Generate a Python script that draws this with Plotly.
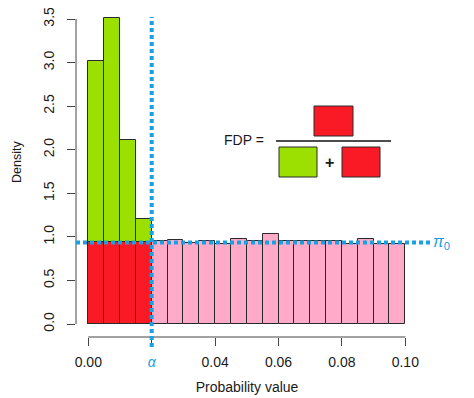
import plotly.graph_objects as go

# ---- data ----
bin_width = 0.005
bin_left = [round(i * 0.005, 3) for i in range(20)]
density = [3.02, 3.51, 2.115, 1.207,
           0.947, 0.969, 0.928, 0.958, 0.920, 0.981, 0.947, 1.029,
           0.947, 0.947, 0.947, 0.947, 0.920, 0.981, 0.913, 0.913]
alpha = 0.02
pi0 = 0.935
null_level = 0.94

x_ticks = [0.00, 0.02, 0.04, 0.06, 0.08, 0.10]
y_ticks = [0.0, 0.5, 1.0, 1.5, 2.0, 2.5, 3.0, 3.5]

GREEN = "#9BE000"
RED = "#FA1A26"
PINK = "#FFAAC8"
BLUE = "#1AA0E0"
EDGE = "#2a2a2a"
TXT = "#1a1a1a"

centers = [l + bin_width / 2 for l in bin_left]
sig_idx = [i for i, l in enumerate(bin_left) if l < alpha - 1e-9]
ns_idx = [i for i, l in enumerate(bin_left) if l >= alpha - 1e-9]

fig = go.Figure()
fig.add_trace(go.Bar(x=[centers[i] for i in sig_idx], y=[density[i] for i in sig_idx],
                     width=bin_width, marker=dict(color=GREEN, line=dict(color=EDGE, width=1)),
                     showlegend=False))
fig.add_trace(go.Bar(x=[centers[i] for i in sig_idx], y=[null_level for _ in sig_idx],
                     width=bin_width, marker=dict(color=RED, line=dict(color=EDGE, width=1)),
                     showlegend=False))
fig.add_trace(go.Bar(x=[centers[i] for i in ns_idx], y=[density[i] for i in ns_idx],
                     width=bin_width, marker=dict(color=PINK, line=dict(color=EDGE, width=1)),
                     showlegend=False))

# page has an 8px body margin: target screen positions minus 8
OFF = 8
W, H = 474, 398
L, R, T, B = 76 - OFF, 418 - OFF, 0, 337 - OFF   # figure coordinates of plot area
def px(x):   # screen px -> paper
    return (x - OFF - L) / (R - L)
def py(y):
    return (B - (y - OFF)) / (B - T)

# scale: 0.00 at screen x 88.3, 3170 px per unit; y 0 at screen 324, 3.5 at screen 19
YS = (324 - 19) / 3.5
x_min = -(88.3 - 76) / 3170
x_max = x_min + (R - L) / 3170
y_max = (324 - (T + OFF)) / YS
y_min = y_max - (B - T) / YS

xt_text = []
for v in x_ticks:
    if abs(v - alpha) < 1e-9:
        xt_text.append('<span style="color:%s"><i>α</i></span>' % BLUE)
    else:
        xt_text.append("%.2f" % v)

shapes = []
# R-style axis lines spanning only the tick range
shapes.append(dict(type="line", xref="paper", yref="y", x0=0, x1=0, y0=0, y1=3.5,
                   line=dict(color="#444", width=1)))
shapes.append(dict(type="line", xref="x", yref="paper", x0=0, x1=0.10, y0=0, y1=0,
                   line=dict(color="#444", width=1)))
# alpha vertical line
shapes.append(dict(type="line", xref="x", yref="paper", x0=alpha, x1=alpha,
                   y0=py(347), y1=py(17),
                   line=dict(color=BLUE, width=4, dash="4px,3px")))
# pi0 horizontal line
shapes.append(dict(type="line", xref="paper", yref="y", x0=0, x1=px(430), y0=pi0, y1=pi0,
                   line=dict(color=BLUE, width=4, dash="4px,3px")))
# FDP diagram
def box(x0, x1, y0, y1, color):
    return dict(type="rect", xref="paper", yref="paper", x0=px(x0), x1=px(x1),
                y0=py(y1), y1=py(y0), fillcolor=color, line=dict(color=EDGE, width=1))
shapes.append(box(314, 353, 106, 136, RED))
shapes.append(dict(type="line", xref="paper", yref="paper", x0=px(276), x1=px(391),
                   y0=py(141), y1=py(141), line=dict(color="#111", width=1.5)))
shapes.append(box(279, 317, 147, 177, GREEN))
shapes.append(box(342, 380, 147, 177, RED))

annotations = [
    dict(xref="paper", yref="paper", x=px(244), y=py(140), text="FDP =", showarrow=False,
         font=dict(size=14, color=TXT), xanchor="center", yanchor="middle"),
    dict(xref="paper", yref="paper", x=px(329.5), y=py(162), text="<b>+</b>", showarrow=False,
         font=dict(size=16, color=TXT), xanchor="center", yanchor="middle"),
    dict(xref="paper", yref="y", x=px(431), y=pi0, text="<i>π</i><sub>0</sub>", showarrow=False,
         font=dict(size=16, color=BLUE), xanchor="left", yanchor="middle"),
    # y-axis title placed like R's mtext
    dict(xref="paper", yref="paper", x=px(17), y=py(162), text="Density", showarrow=False,
         textangle=-90, font=dict(size=12.5, color=TXT), xanchor="center", yanchor="middle"),
]

fig.update_layout(
    width=W, height=H,
    margin=dict(l=L, r=W - R, t=T, b=H - B, autoexpand=False),
    paper_bgcolor="white", plot_bgcolor="white",
    barmode="overlay", bargap=0,
    font=dict(family="Liberation Sans, Arial, sans-serif", size=14, color=TXT),
    shapes=shapes, annotations=annotations,
    xaxis=dict(range=[x_min, x_max], tickvals=x_ticks, ticktext=xt_text, automargin=False,
               ticks="outside", ticklen=8, tickcolor="#444", showgrid=False, zeroline=False,
               showline=False, tickfont=dict(size=14, color=TXT), ticklabelstandoff=4,
               ticklabeloverflow="allow",
               title=dict(text="Probability value", font=dict(size=14, color=TXT), standoff=13)),
    yaxis=dict(range=[y_min, y_max], tickvals=y_ticks, ticktext=["%.1f" % v for v in y_ticks],
               tickangle=-90, ticks="outside", ticklen=8, tickcolor="#444", showgrid=False,
               automargin=False, ticklabelstandoff=7, ticklabeloverflow="allow",
               zeroline=False, showline=False, tickfont=dict(size=14, color=TXT)),
)

fig.write_html("out.html")
